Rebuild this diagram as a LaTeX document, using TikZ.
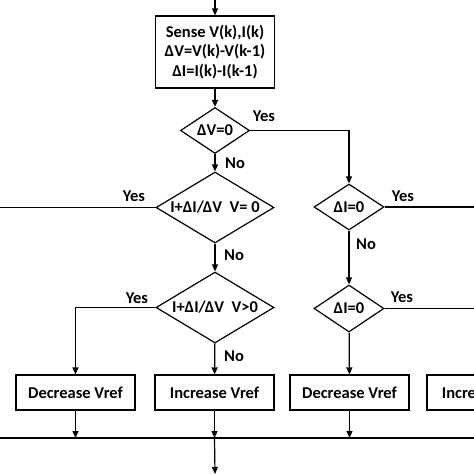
\documentclass[tikz,border=0pt]{standalone}
\usepackage{fontspec}
\setmainfont{Carlito}
\usetikzlibrary{shapes.geometric,arrows.meta}
\newcommand{\zw}[1]{\makebox[0pt]{#1}}
\begin{document}
\begin{tikzpicture}[x=1pt,y=-1pt,
  every node/.style={font=\bfseries\fontsize{16.5}{19.7}\selectfont},
  box/.style={draw, line width=1.2pt, inner sep=0pt, align=center},
  dec/.style={draw, diamond, line width=1.2pt, inner sep=0pt},
  lab/.style={inner sep=0pt},
  flow/.style={line width=1.2pt},
  arr/.style={flow, -{Triangle[length=7pt,width=6pt]}}
]
\useasboundingbox (0,0) rectangle (474,474);
\clip (0,0) rectangle (474,474);
% nodes
\node[box, minimum width=119pt, minimum height=72pt] (sense) at (215,52) {Sense V(k),I(k)\\ΔV=V(k)-V(k-1)\\ΔI=I(k)-I(k-1)};
\node[dec, minimum width=69pt, minimum height=46pt] (d1) at (215,130.5) {\zw{ΔV=0}};
\node[dec, minimum width=118pt, minimum height=71pt] (d2) at (215,207.5) {\zw{I+ΔI/ΔV\ \ V= 0}};
\node[dec, minimum width=118pt, minimum height=71pt] (d3) at (215,307.5) {\zw{I+ΔI/ΔV\ \ V>0}};
\node[dec, minimum width=70pt, minimum height=46pt] (r1) at (349,207) {\zw{ΔI=0}};
\node[dec, minimum width=70pt, minimum height=47pt] (r2) at (349,308.5) {\zw{ΔI=0}};
\node[box, minimum width=119pt, minimum height=35pt] (b1) at (75.5,392.5) {Decrease Vref};
\node[box, minimum width=119pt, minimum height=35pt] (b2) at (214.5,392.5) {Increase Vref};
\node[box, minimum width=119pt, minimum height=35pt] (b3) at (349.5,392.5) {Decrease Vref};
\node[box, minimum width=119pt, minimum height=35pt] (b4) at (486.5,392.5) {Increase Vref};
% free ends
\coordinate (top) at (215,0);
\coordinate (lend) at (0,207.5);
\coordinate (rend1) at (474,207);
\coordinate (rend2) at (474,308.5);
\coordinate (busL) at (0,438);
\coordinate (busR) at (474,438);
\coordinate (bottom) at (215,474);
% connectors
\draw[arr] (top) -- (sense);
\draw[arr] (sense) -- (d1);
\draw[arr] (d1) -- (d2);
\draw[arr] (d1.east) -| (r1.north);
\draw[flow] (d2.west) -- (lend);
\draw[arr] (d2) -- (d3);
\draw[arr] (d3.west) -| (b1.north);
\draw[arr] (d3) -- (b2);
\draw[arr] (r1) -- (r2);
\draw[flow] (r1.east) -- (rend1);
\draw[flow] (r2.east) -- (rend2);
\draw[arr] (r2) -- (b3);
\draw[flow] (busL) -- (busR);
\draw[arr] (b1.south) -- (b1.south |- busL);
\draw[arr] (b2.south) -- (b2.south |- busL);
\draw[arr] (b3.south) -- (b3.south |- busL);
\draw[arr] (b4.south) -- (b4.south |- busL);
\draw[arr] (b2.south |- busL) -- (bottom);
% labels
\node[lab] at (264,116) {Yes};
\node[lab] at (235,163) {No};
\node[lab] at (134,196) {Yes};
\node[lab] at (234,255) {No};
\node[lab] at (137,298) {Yes};
\node[lab] at (234,356) {No};
\node[lab] at (403,196) {Yes};
\node[lab] at (366,244) {No};
\node[lab] at (402,297) {Yes};
\end{tikzpicture}
\end{document}
